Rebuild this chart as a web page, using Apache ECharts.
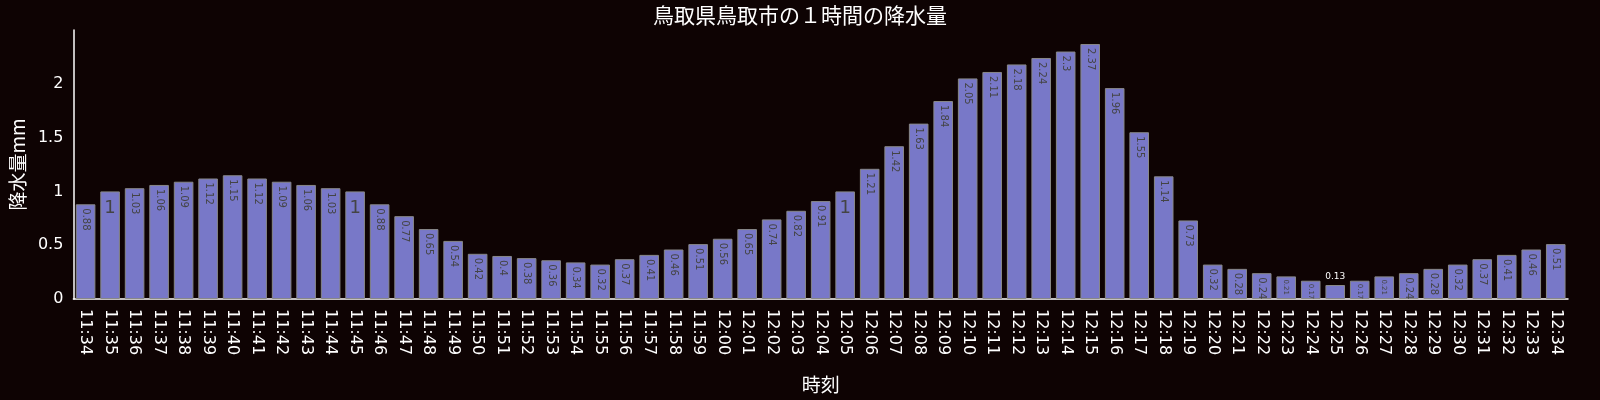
<!DOCTYPE html>
<html><head><meta charset="utf-8">
<script src="https://cdn.jsdelivr.net/npm/echarts@6/dist/echarts.min.js"></script>
<style>html,body{margin:0;background:#0e0303}#main{width:1600px;height:400px}</style>
</head><body><div id="main"></div>
<script>
const times = ['11:34','11:35','11:36','11:37','11:38','11:39','11:40','11:41','11:42','11:43','11:44','11:45','11:46','11:47','11:48','11:49','11:50','11:51','11:52','11:53','11:54','11:55','11:56','11:57','11:58','11:59','12:00','12:01','12:02','12:03','12:04','12:05','12:06','12:07','12:08','12:09','12:10','12:11','12:12','12:13','12:14','12:15','12:16','12:17','12:18','12:19','12:20','12:21','12:22','12:23','12:24','12:25','12:26','12:27','12:28','12:29','12:30','12:31','12:32','12:33','12:34'];
const rain = [0.88,1,1.03,1.06,1.09,1.12,1.15,1.12,1.09,1.06,1.03,1,0.88,0.77,0.65,0.54,0.42,0.4,0.38,0.36,0.34,0.32,0.37,0.41,0.46,0.51,0.56,0.65,0.74,0.82,0.91,1,1.21,1.42,1.63,1.84,2.05,2.11,2.18,2.24,2.3,2.37,1.96,1.55,1.14,0.73,0.32,0.28,0.24,0.21,0.17,0.13,0.17,0.21,0.24,0.28,0.32,0.37,0.41,0.46,0.51];

const font = '"Noto Sans CJK JP", "DejaVu Sans", sans-serif';
const data = rain.map(v => {
  let label;
  if (v === 1) label = {rotate: 0, fontSize: 18, position: 'insideTop', distance: 8};
  else if (v < 0.15) label = {rotate: 0, fontSize: 9, position: 'top', color: '#fff', distance: 4};
  else if (v < 0.23) label = {rotate: -90, fontSize: 7, position: 'insideTop', distance: 3};
  else label = {rotate: -90, fontSize: 10, position: 'insideTop', distance: 4};
  return {value: v, label: Object.assign({show: true, color: '#444', fontFamily: 'DejaVu Sans', align: 'left', verticalAlign: 'middle'}, label,
    label.rotate === 0 ? {align: 'center', verticalAlign: label.position === 'top' ? 'bottom' : 'top'} : {})};
});

const chart = echarts.init(document.getElementById('main'));
chart.setOption({
  backgroundColor: '#0e0303',
  animation: false,
  title: {text: '鳥取県鳥取市の１時間の降水量', left: 'center', top: 0,
    textStyle: {color: '#fff', fontSize: 21, fontWeight: 'normal', fontFamily: font}},
  grid: {left: 62, right: 32, top: 30, bottom: 101},
  xAxis: {type: 'category', data: times, name: '時刻', nameLocation: 'middle', nameGap: 76,
    nameTextStyle: {color: '#fff', fontSize: 19, fontFamily: font},
    axisLine: {lineStyle: {color: '#fff', width: 1.5}}, axisTick: {show: false},
    axisLabel: {color: '#fff', fontSize: 16, rotate: -90, interval: 0, fontFamily: 'DejaVu Sans', margin: 10}},
  yAxis: {type: 'value', min: 0, max: 2.5, interval: 0.5, name: '降水量mm', nameLocation: 'middle', nameGap: 36,
    nameTextStyle: {color: '#fff', fontSize: 19, fontFamily: font},
    axisLine: {show: true, lineStyle: {color: '#fff', width: 1.5}}, axisTick: {show: false}, splitLine: {show: false},
    axisLabel: {color: '#fff', fontSize: 16, fontFamily: 'DejaVu Sans', margin: 10,
      formatter: v => v >= 2.5 ? '' : String(v)}},
  series: [{type: 'bar', data: data, barCategoryGap: '20%',
    itemStyle: {color: '#7878c8', borderColor: '#888', borderWidth: 1}}]
});
</script></body></html>
